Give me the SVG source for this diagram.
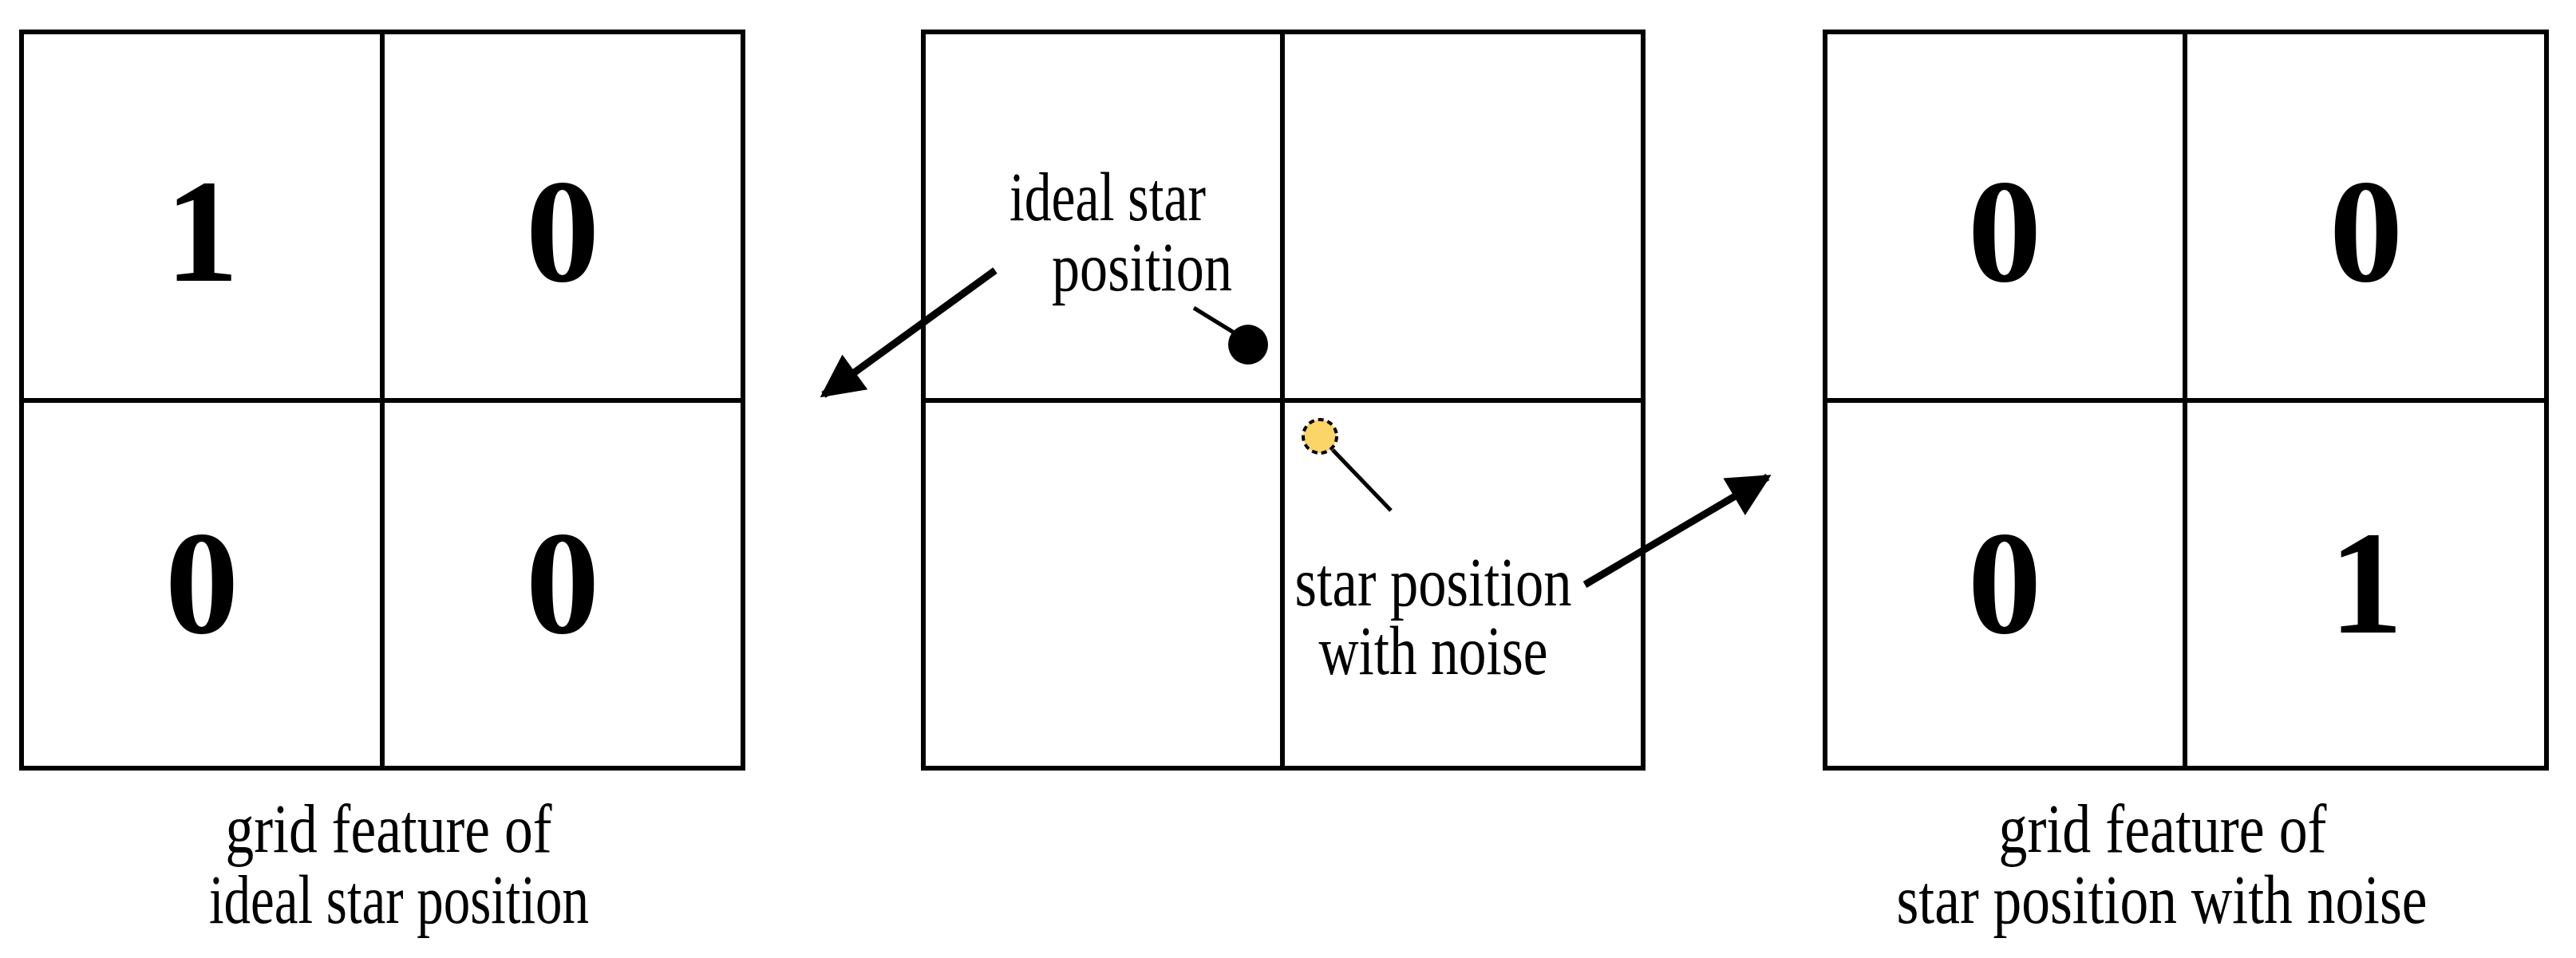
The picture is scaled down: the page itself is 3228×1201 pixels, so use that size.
<svg xmlns="http://www.w3.org/2000/svg" width="3228" height="1201" viewBox="0 0 3228 1201">
<defs>
<style>
.g{fill:none;stroke:#000;stroke-width:6}
.d{font-family:"Liberation Serif",serif;font-weight:bold;font-size:185px;text-anchor:middle}
.t{font-family:"Liberation Serif",serif;font-size:86px}
.c{text-anchor:middle}
.a{stroke:#000;stroke-width:9;fill:none}
.l{stroke:#000;stroke-width:5;fill:none}
</style>
<marker id="ah" viewBox="0 0 10 10" refX="9" refY="5" markerWidth="7" markerHeight="6" orient="auto" markerUnits="strokeWidth"><path d="M0,0L10,5L0,10z" fill="#000"/></marker>
</defs>
<rect width="3228" height="1201" fill="#fff"/>
<g id="grid-ideal">
<rect class="g" x="27" y="40" width="904" height="923"/>
<line class="g" x1="479" y1="40" x2="479" y2="963"/>
<line class="g" x1="27" y1="502" x2="931" y2="502"/>
<text class="d" x="253" y="352">1</text>
<text class="d" x="705" y="352">0</text>
<text class="d" x="253" y="793">0</text>
<text class="d" x="705" y="793">0</text>
<text class="t c" x="487" y="1068" textLength="409" lengthAdjust="spacingAndGlyphs">grid feature of</text>
<text class="t c" x="500" y="1157" textLength="476" lengthAdjust="spacingAndGlyphs">ideal star position</text>
</g>
<g id="grid-middle">
<rect class="g" x="1157" y="40" width="902" height="923"/>
<line class="g" x1="1607" y1="40" x2="1607" y2="963"/>
<line class="g" x1="1157" y1="502" x2="2059" y2="502"/>
<circle cx="1564" cy="432" r="25" fill="#000"/>
<circle cx="1654" cy="547" r="21" fill="#FBD567" stroke="#000" stroke-width="4" stroke-dasharray="7,5"/>
<text class="t c" x="1388" y="276" textLength="246" lengthAdjust="spacingAndGlyphs">ideal star</text>
<text class="t c" x="1431" y="364" textLength="226" lengthAdjust="spacingAndGlyphs">position</text>
<text class="t c" x="1796" y="759" textLength="347" lengthAdjust="spacingAndGlyphs">star position</text>
<text class="t c" x="1796" y="845" textLength="287" lengthAdjust="spacingAndGlyphs">with noise</text>
</g>
<g id="grid-noise">
<rect class="g" x="2287" y="40" width="904" height="923"/>
<line class="g" x1="2738" y1="40" x2="2738" y2="963"/>
<line class="g" x1="2287" y1="502" x2="3191" y2="502"/>
<text class="d" x="2512" y="352">0</text>
<text class="d" x="2965" y="352">0</text>
<text class="d" x="2512" y="793">0</text>
<text class="d" x="2965" y="793">1</text>
<text class="t c" x="2710" y="1068" textLength="411" lengthAdjust="spacingAndGlyphs">grid feature of</text>
<text class="t c" x="2709" y="1157" textLength="665" lengthAdjust="spacingAndGlyphs">star position with noise</text>
</g>
<g id="connectors">
<line class="l" x1="1496" y1="386" x2="1548" y2="418"/>
<line class="l" x1="1670" y1="564" x2="1743" y2="640"/>
<line class="a" x1="1247" y1="339" x2="1032" y2="495" marker-end="url(#ah)"/>
<line class="a" x1="1986" y1="733" x2="2215" y2="598" marker-end="url(#ah)"/>
</g>
</svg>
